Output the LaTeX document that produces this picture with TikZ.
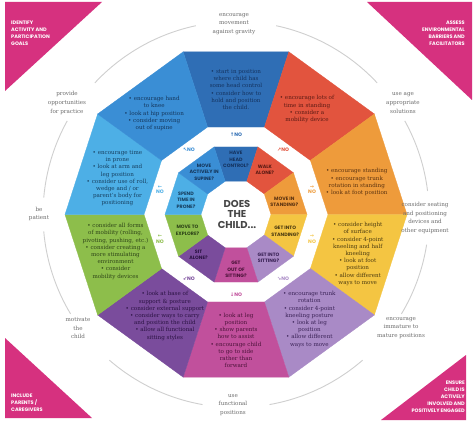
\documentclass[tikz,border=0pt]{standalone}
\usepackage{fontspec}
\setmainfont{DejaVu Serif}
\newfontfamily\popfont{Poppins}
\newfontfamily\symfont{DejaVu Sans}
\usetikzlibrary{calc}
\definecolor{cA}{HTML}{2F6EB5}\definecolor{tA}{HTML}{14325E}
\definecolor{cB}{HTML}{E2543E}\definecolor{tB}{HTML}{5A1A14}
\definecolor{cC}{HTML}{EE9B3B}\definecolor{tC}{HTML}{5A3210}
\definecolor{cD}{HTML}{F4C542}\definecolor{tD}{HTML}{4A3A10}
\definecolor{cE}{HTML}{A98AC6}\definecolor{tE}{HTML}{3A2256}
\definecolor{cF}{HTML}{C1509C}\definecolor{tF}{HTML}{4A1238}
\definecolor{cG}{HTML}{7A4C9C}\definecolor{tG}{HTML}{2A1242}
\definecolor{cH}{HTML}{8DBE4B}\definecolor{tH}{HTML}{2E4418}
\definecolor{cI}{HTML}{4DAFE6}\definecolor{tI}{HTML}{163E5E}
\definecolor{cJ}{HTML}{3A8ED5}\definecolor{tJ}{HTML}{14355A}
\definecolor{pinkc}{HTML}{D6317F}
\definecolor{arcc}{HTML}{CFCFCF}
\definecolor{lblc}{HTML}{6A6A6A}
\definecolor{ctrc}{HTML}{454545}
\tikzset{
  segtxt/.style={align=center,inner sep=0pt,font=\fontsize{5.6}{7.2}\selectfont},
  qtxt/.style={align=center,inner sep=0pt,font=\popfont\bfseries\fontsize{4.8}{6.3}\selectfont},
  notxt/.style={align=center,inner sep=0pt,font=\popfont\bfseries\fontsize{5}{5.5}\selectfont},
  lbltxt/.style={align=center,inner sep=0pt,text=lblc,font=\fontsize{5.6}{8.7}\selectfont},
  cornertxt/.style={inner sep=0pt,text=white,font=\popfont\bfseries\fontsize{5}{7}\selectfont},
  arcline/.style={draw=arcc,line width=0.9pt}
}
\begin{document}
\begin{tikzpicture}[x=1pt,y=1pt]
\useasboundingbox (0,0) rectangle (474,424);
\fill[white] (0,0) rectangle (474,424);
\coordinate (C) at (236,209.5);

% corner triangles
\fill[pinkc] (5,422) -- (102,422) -- (5,333) -- cycle;
\fill[pinkc] (367,422) -- (472,422) -- (472,324) -- cycle;
\fill[pinkc] (5,86) -- (5,6) -- (92,6) -- cycle;
\fill[pinkc] (466,69) -- (466,4) -- (381,4) -- cycle;
\node[cornertxt,anchor=north west,align=left] (k1) at (11,403) {IDENTIFY\\ACTIVITY AND\\PARTICIPATION\\GOALS};
\node[cornertxt,anchor=north east,align=right] (k2) at (465,403) {ASSESS\\ENVIRONMENTAL\\BARRIERS AND\\FACILITATORS};
\node[cornertxt,anchor=south west,align=left] (k3) at (11,12) {INCLUDE\\PARENTS /\\CAREGIVERS};
\node[cornertxt,anchor=south east,align=right] (k4) at (465,11) {ENSURE\\CHILD IS\\ACTIVELY\\INVOLVED AND\\POSITIVELY ENGAGED};

% outer circle arcs
\foreach \s/\e in {43/78,102/137,151/175,185/211,229/260,280/311,329/351,7/29}{
  \draw[arcline,shift={(C)}] ({\s}:193) arc[start angle=\s,end angle=\e,radius=193];
}

% segments
\foreach \k/\col in {0/cA,1/cB,2/cC,3/cD,4/cE,5/cF,6/cG,7/cH,8/cI,9/cJ}{
  \pgfmathsetmacro\a{90-36*\k}
  \filldraw[fill=\col,draw=\col,line width=0.3pt,shift={(C)}] ({\a+18}:171) -- ({\a-18}:171) -- ({\a-18}:92) -- ({\a+18}:92) -- cycle;
  \filldraw[fill=\col,draw=\col,line width=0.3pt,shift={(C)}] ({\a+18}:71) -- ({\a-18}:71) -- ({\a-18}:35) -- ({\a+18}:35) -- cycle;
}

% outer segment texts
\node[segtxt,text=tA] (sA) at ($(C)+(90:125)$) {• start in position\\where child has\\some head control\\• consider how to\\hold and position\\the child.};
\node[segtxt,text=tB] (sB) at ($(C)+(56:127)$) {• encourage lots of\\time in standing\\• consider a\\mobility device};
\node[segtxt,text=tC] (sC) at ($(C)+(15:125)$) {• encourage standing\\• encourage trunk\\rotation in standing\\• look at foot position};
\node[segtxt,text=tD] (sD) at ($(C)+(-18:128)$) {• consider height\\of surface\\• consider 4-point\\kneeling and half\\kneeling\\• look at foot\\position\\• allow different\\ways to move};
\node[segtxt,text=tE] (sE) at ($(C)+(-55:128)$) {• encourage trunk\\rotation\\• consider 4-point\\kneeling posture\\• look at leg\\position\\• allow different\\ways to move};
\node[segtxt,text=tF] (sF) at ($(C)+(-90:126)$) {• look at leg\\position\\• show parents\\how to assist\\• encourage child\\to go to side\\rather than\\forward};
\node[segtxt,text=tG] (sG) at ($(C)+(-125:124)$) {• look at base of\\support \& posture\\• consider external support\\• consider ways to carry\\and position the child\\• allow all functional\\sitting styles};
\node[segtxt,text=tH] (sH) at ($(C)+(-163:126)$) {• consider all forms\\of mobility (rolling,\\pivoting, pushing, etc.)\\• consider creating a\\more stimulating\\environment\\• consider\\mobility devices};
\node[segtxt,text=tI] (sI) at ($(C)+(163:124)$) {• encourage time\\in prone\\• look at arm and\\leg position\\• consider use of roll,\\wedge and / or\\parent's body for\\positioning};
\node[segtxt,text=tJ] (sJ) at ($(C)+(129:130)$) {• encourage hand\\to knee\\• look at hip position\\• consider moving\\out of supine};

% inner questions
\node[qtxt,text=tA] (qA) at ($(C)+(90:55)$) {HAVE\\HEAD\\CONTROL?};
\node[qtxt,text=tB] (qB) at ($(C)+(57:53)$) {WALK\\ALONE?};
\node[qtxt,text=tC] (qC) at ($(C)+(15:50)$) {MOVE IN\\STANDING?};
\node[qtxt,text=tD] (qD) at ($(C)+(-19:52)$) {GET INTO\\STANDING?};
\node[qtxt,text=tE] (qE) at ($(C)+(-53:54)$) {GET INTO\\SITTING?};
\node[qtxt,text=tF] (qF) at ($(C)+(-90:55)$) {GET\\OUT OF\\SITTING?};
\node[qtxt,text=tG] (qG) at ($(C)+(-133:55)$) {SIT\\ALONE?};
\node[qtxt,text=tH] (qH) at ($(C)+(-162:51)$) {MOVE TO\\EXPLORE?};
\node[qtxt,text=tI] (qI) at ($(C)+(164:52)$) {SPEND\\TIME IN\\PRONE?};
\node[qtxt,text=tJ] (qJ) at ($(C)+(127:53)$) {MOVE\\ACTIVELY IN\\SUPINE?};

% center
\node[align=center,inner sep=0pt,text=ctrc,font=\popfont\bfseries\fontsize{10}{10.5}\selectfont] (ctr) at (237,210) {DOES\\THE\\CHILD...};

% NO labels
\node[notxt,text=cA] (nA) at ($(C)+(90:80)$) {{\symfont ↑}NO};
\node[notxt,text=cB] (nB) at ($(C)+(54:80)$) {{\symfont ↗}NO};
\node[notxt,text=cC] (nC) at ($(C)+(18:80)$) {{\symfont →}\\NO};
\node[notxt,text=cD] (nD) at ($(C)+(-18:80)$) {{\symfont →}\\NO};
\node[notxt,text=cE] (nE) at ($(C)+(-54:80)$) {{\symfont ↘}NO};
\node[notxt,text=cF] (nF) at ($(C)+(-90:80)$) {{\symfont ↓}NO};
\node[notxt,text=cG] (nG) at ($(C)+(-126:80)$) {{\symfont ↙}NO};
\node[notxt,text=cH] (nH) at ($(C)+(-162:80)$) {{\symfont ←}\\NO};
\node[notxt,text=cI] (nI) at ($(C)+(162:80)$) {{\symfont ←}\\NO};
\node[notxt,text=cJ] (nJ) at ($(C)+(126:80)$) {{\symfont ↖}NO};

% outer circle labels
\node[lbltxt] (l1) at (234,400) {encourage\\movement\\against gravity};
\node[lbltxt] (l2) at (403,321) {use age\\appropriate\\solutions};
\node[lbltxt] (l3) at (425,206) {consider seating\\and positioning\\devices and\\other equipment};
\node[lbltxt] (l4) at (401,96) {encourage\\immature to\\mature positions};
\node[lbltxt] (l5) at (233,19) {use\\functional\\positions};
\node[lbltxt] (l6) at (78,96) {motivate\\the\\child};
\node[lbltxt] (l7) at (39,210) {be\\patient};
\node[lbltxt] (l8) at (67,321) {provide\\opportunities\\for practice};
\end{tikzpicture}
\end{document}
